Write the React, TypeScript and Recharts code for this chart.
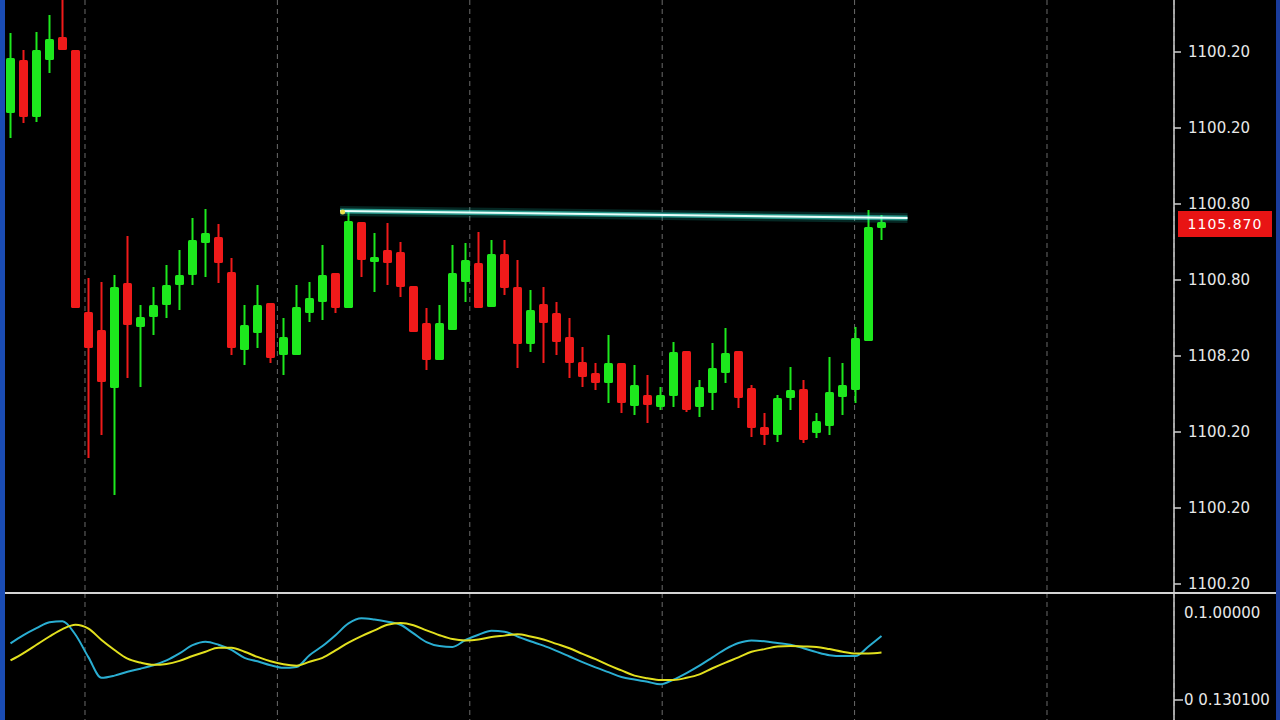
import {
  ComposedChart,
  LineChart,
  Bar,
  Line,
  XAxis,
  YAxis,
  CartesianGrid,
  ReferenceLine,
  ReferenceDot,
} from "recharts";

// candles (price units)
const opens = [
  1106.87, 1107.40, 1106.83, 1107.40, 1107.63, 1107.50, 1104.88, 1104.70, 1104.12, 1105.17,
  1104.73, 1104.83, 1104.95, 1105.15, 1105.25, 1105.57, 1105.63, 1105.28, 1104.50, 1104.67,
  1104.97, 1104.45, 1104.45, 1104.87, 1104.98, 1105.27, 1104.92, 1105.78, 1105.38, 1105.50,
  1105.48, 1105.14, 1104.77, 1104.40, 1104.70, 1105.18, 1105.37, 1104.93, 1105.46, 1105.13,
  1104.56, 1104.96, 1104.87, 1104.63, 1104.38, 1104.27, 1104.17, 1104.37, 1103.94, 1104.05,
  1103.93, 1104.04, 1104.49, 1103.93, 1104.07, 1104.27, 1104.49, 1104.12, 1103.73, 1103.65,
  1104.02, 1104.11, 1103.67, 1103.74, 1104.03, 1104.10, 1104.59, 1105.72,
];
const closes = [
  1107.42, 1106.83, 1107.50, 1107.61, 1107.50, 1104.92, 1104.52, 1104.18, 1105.13, 1104.75,
  1104.83, 1104.95, 1105.15, 1105.25, 1105.60, 1105.67, 1105.37, 1104.52, 1104.75, 1104.95,
  1104.42, 1104.63, 1104.93, 1105.02, 1105.25, 1104.92, 1105.79, 1105.40, 1105.43, 1105.37,
  1105.13, 1104.68, 1104.40, 1104.77, 1105.27, 1105.40, 1104.92, 1105.46, 1105.12, 1104.56,
  1104.90, 1104.77, 1104.58, 1104.37, 1104.23, 1104.17, 1104.37, 1103.97, 1104.15, 1103.95,
  1104.05, 1104.48, 1103.90, 1104.13, 1104.32, 1104.47, 1104.02, 1103.72, 1103.65, 1104.02,
  1104.10, 1103.60, 1103.79, 1104.08, 1104.15, 1104.62, 1105.73, 1105.78,
];
const highs = [
  1107.67, 1107.50, 1107.68, 1107.85, 1108.00, 1107.50, 1105.22, 1105.18, 1105.25, 1105.64,
  1104.95, 1105.13, 1105.35, 1105.50, 1105.82, 1105.91, 1105.76, 1105.42, 1104.95, 1105.15,
  1104.97, 1104.82, 1105.15, 1105.18, 1105.55, 1105.27, 1105.88, 1105.78, 1105.67, 1105.77,
  1105.58, 1105.14, 1104.92, 1104.95, 1105.55, 1105.57, 1105.68, 1105.60, 1105.60, 1105.40,
  1105.10, 1105.13, 1104.98, 1104.82, 1104.53, 1104.37, 1104.65, 1104.37, 1104.35, 1104.25,
  1104.13, 1104.58, 1104.49, 1104.20, 1104.57, 1104.72, 1104.49, 1104.15, 1103.87, 1104.05,
  1104.33, 1104.20, 1103.87, 1104.43, 1104.37, 1104.73, 1105.90, 1105.85,
];
const lows = [
  1106.62, 1106.77, 1106.78, 1107.27, 1107.50, 1104.92, 1103.42, 1103.65, 1103.05, 1104.22,
  1104.13, 1104.65, 1104.82, 1104.90, 1105.15, 1105.23, 1105.17, 1104.45, 1104.35, 1104.52,
  1104.37, 1104.25, 1104.45, 1104.78, 1104.80, 1104.87, 1104.92, 1105.23, 1105.08, 1105.15,
  1105.03, 1104.68, 1104.30, 1104.40, 1104.70, 1104.98, 1104.92, 1104.93, 1105.05, 1104.32,
  1104.48, 1104.37, 1104.45, 1104.22, 1104.13, 1104.10, 1103.97, 1103.87, 1103.85, 1103.77,
  1103.90, 1103.93, 1103.88, 1103.83, 1103.90, 1104.17, 1103.92, 1103.63, 1103.55, 1103.58,
  1103.90, 1103.57, 1103.62, 1103.65, 1103.85, 1103.97, 1104.59, 1105.60,
];

// oscillator panel
const cyanOsc = [
  0.30, 0.49, 0.65, 0.79, 0.81, 0.50, -0.02, -0.49, -0.44, -0.35,
  -0.28, -0.20, -0.09, 0.07, 0.26, 0.34, 0.27, 0.15, -0.03, -0.11,
  -0.20, -0.26, -0.24, 0.03, 0.24, 0.49, 0.76, 0.88, 0.85, 0.80,
  0.73, 0.53, 0.33, 0.24, 0.22, 0.38, 0.50, 0.59, 0.57, 0.46,
  0.35, 0.25, 0.13, 0.00, -0.13, -0.25, -0.36, -0.47, -0.53, -0.58,
  -0.64, -0.53, -0.38, -0.21, -0.02, 0.17, 0.31, 0.37, 0.35, 0.31,
  0.27, 0.19, 0.10, 0.03, 0.01, 0.01, 0.23, 0.47,
];
const yellowOsc = [
  -0.09, 0.08, 0.27, 0.46, 0.63, 0.73, 0.64, 0.38, 0.15, -0.05,
  -0.14, -0.19, -0.17, -0.10, 0.01, 0.11, 0.20, 0.20, 0.11, -0.01,
  -0.11, -0.18, -0.21, -0.12, -0.03, 0.14, 0.32, 0.47, 0.60, 0.73,
  0.77, 0.72, 0.60, 0.49, 0.40, 0.37, 0.39, 0.45, 0.48, 0.51,
  0.46, 0.39, 0.29, 0.19, 0.06, -0.06, -0.20, -0.32, -0.44, -0.50,
  -0.54, -0.54, -0.49, -0.41, -0.27, -0.14, -0.02, 0.11, 0.17, 0.23,
  0.24, 0.23, 0.22, 0.17, 0.11, 0.07, 0.07, 0.09,
];

const timeTicks = [5.73, 20.53, 35.33, 50.13, 64.93, 79.73];
const priceTicks = [1107.48, 1106.72, 1105.96, 1105.2, 1104.44, 1103.68, 1102.92, 1102.16];
const priceTickLabels = ["1100.20", "1100.20", "1100.80", "1100.80", "1108.20", "1100.20", "1100.20", "1100.20"];
const oscTicks = [1, -1];
const oscTickLabels = ["0.1.00000", "0 0.130100"];
const trendX = [25.35, 69.0];
const trendY = [1105.89, 1105.82];
const tagText = "1105.870";

const GREEN = "#1de81d";
const RED = "#f01a1a";
const AXIS = "#cfcfcf";
const FONT = "DejaVu Sans";

const candles = opens.map((o, i) => ({ i, open: o, close: closes[i], high: highs[i], low: lows[i] }));
const osc = cyanOsc.map((c, i) => ({ i, cyan: c, yellow: yellowOsc[i] }));

const Candle = (props: any) => {
  const { x, y, width, height, payload } = props;
  const { open, close, high, low } = payload;
  const top = Math.min(y, y + height);
  const h = Math.abs(height);
  const span = high - low || 1;
  const toY = (v: number) => top + ((high - v) / span) * h;
  const color = close >= open ? GREEN : RED;
  const bTop = toY(Math.max(open, close));
  const bBot = toY(Math.min(open, close));
  const cx = x + width / 2;
  return (
    <g>
      <line x1={cx} x2={cx} y1={top} y2={top + h} stroke={color} strokeWidth={2} />
      <rect x={x} y={bTop} width={width} height={Math.max(bBot - bTop, 3)} fill={color} rx={1.5} />
    </g>
  );
};

const PriceTick = ({ x, y, payload }: any) => (
  <text x={x} y={y} dy={5} fill="#e8e8e8" fontSize={15} fontFamily={FONT} textAnchor="start">
    {priceTickLabels[priceTicks.indexOf(payload.value)]}
  </text>
);

const OscTick = ({ x, y, payload }: any) => {
  const idx = oscTicks.indexOf(payload.value);
  return (
    <g>
      {idx === 1 && <line x1={1174} x2={1183} y1={y} y2={y} stroke={AXIS} strokeWidth={1.5} />}
      <text x={x} y={y} dy={5} fill="#e8e8e8" fontSize={15} fontFamily={FONT} textAnchor="start">
        {oscTickLabels[idx]}
      </text>
    </g>
  );
};

const PriceTag = (props: any) => {
  const { viewBox } = props;
  const left = viewBox.x + viewBox.width + 4;
  return (
    <g>
      <rect x={left} y={viewBox.y - 11} width={94} height={26} fill="#e81414" />
      <text x={left + 47} y={viewBox.y + 7} fill="#ffffff" fontSize={14} fontFamily={FONT} textAnchor="middle" letterSpacing={1}>
        {tagText}
      </text>
    </g>
  );
};

const trendSegment = [
  { x: trendX[0], y: trendY[0] },
  { x: trendX[1], y: trendY[1] },
];

export default function App() {
  return (
    <div style={{ position: "absolute", left: 0, top: 0, width: 1280, height: 720, background: "#000", overflow: "hidden" }}>
      <div style={{ position: "absolute", left: 0, top: 0 }}>
        <ComposedChart width={1280} height={593} data={candles} margin={{ top: 0, right: 0, left: 4, bottom: 0 }}>
          <CartesianGrid horizontal={false} stroke="#6a6a6a" strokeDasharray="5 4" />
          <XAxis dataKey="i" type="number" domain={[-0.5, 89.5]} ticks={timeTicks} hide allowDataOverflow />
          <YAxis
            orientation="right"
            width={106}
            domain={[1102.07, 1108]}
            ticks={priceTicks}
            interval={0}
            allowDataOverflow
            axisLine={{ stroke: AXIS, strokeWidth: 1.5 }}
            tickLine={{ stroke: AXIS, strokeWidth: 1.5 }}
            tickSize={7}
            tickMargin={7}
            tick={<PriceTick />}
          />
          <Bar
            dataKey={(d: any) => [d.low, d.high]}
            barSize={9}
            shape={(p: any) => <Candle {...p} />}
            isAnimationActive={false}
          />
          <ReferenceLine segment={trendSegment} stroke="#19d9c4" strokeOpacity={0.18} strokeWidth={10} />
          <ReferenceLine segment={trendSegment} stroke="#40f0dc" strokeOpacity={0.55} strokeWidth={5} />
          <ReferenceLine segment={trendSegment} stroke="#e8fffb" strokeWidth={2} />
          <ReferenceDot x={trendX[0] + 0.2} y={trendY[0] - 0.01} r={2.5} fill="#e8e04a" stroke="none" />
          <ReferenceLine y={closes[closes.length - 1]} stroke="none" label={<PriceTag />} />
        </ComposedChart>
      </div>
      <div style={{ position: "absolute", left: 0, top: 593 }}>
        <LineChart width={1280} height={127} data={osc} margin={{ top: 0, right: 0, left: 4, bottom: 0 }}>
          <CartesianGrid horizontal={false} stroke="#6a6a6a" strokeDasharray="5 4" />
          <XAxis dataKey="i" type="number" domain={[-0.5, 89.5]} ticks={timeTicks} hide allowDataOverflow />
          <YAxis
            orientation="right"
            width={106}
            domain={[-1.46, 1.46]}
            ticks={oscTicks}
            interval={0}
            axisLine={{ stroke: AXIS, strokeWidth: 1.5 }}
            tickLine={false}
            tickSize={8}
            tickMargin={2}
            tick={<OscTick />}
          />
          <Line type="monotone" dataKey="cyan" stroke="#2aaed2" strokeWidth={2} dot={false} isAnimationActive={false} />
          <Line type="monotone" dataKey="yellow" stroke="#e2e01e" strokeWidth={2} dot={false} isAnimationActive={false} />
        </LineChart>
      </div>
      <div style={{ position: "absolute", left: 0, top: 592, width: 1280, height: 2, background: "#d4d4d4" }} />
      <div style={{ position: "absolute", left: 0, top: 0, width: 5, height: 720, background: "#1a4cb4" }} />
      <div style={{ position: "absolute", right: 0, top: 0, width: 4, height: 720, background: "#1a3c9c" }} />
    </div>
  );
}
